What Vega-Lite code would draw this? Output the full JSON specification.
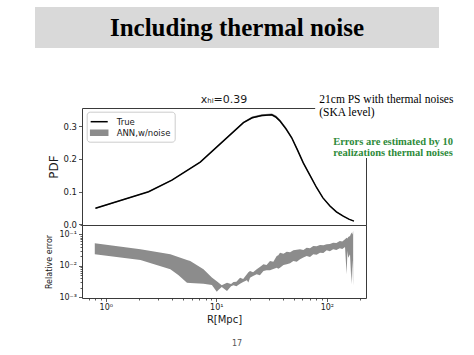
{
  "$schema": "https://vega.github.io/schema/vega-lite/v6.json",
  "background": "white",
  "padding": {"left": 35, "top": 7, "right": 0, "bottom": 0},
  "spacing": 45,
  "config": {
    "font": "DejaVu Sans",
    "view": {"stroke": null},
    "axis": {"domain": false, "grid": false, "labelFont": "DejaVu Sans", "titleFont": "DejaVu Sans", "labelColor": "#1a1a1a", "titleColor": "#1a1a1a", "tickColor": "#333333", "tickWidth": 0.8, "titleFontWeight": "normal", "labelOverlap": false, "labelFlush": false},
    "title": {"font": "DejaVu Sans", "fontWeight": "normal", "color": "#1a1a1a"}
  },
  "datasets": {
    "pdf": [
      {"R": 0.807, "pdf": 0.049, "lo": 0.047, "hi": 0.051},
      {"R": 2.44, "pdf": 0.0997, "lo": 0.098, "hi": 0.101},
      {"R": 3.97, "pdf": 0.1355, "lo": 0.134, "hi": 0.137},
      {"R": 7.16, "pdf": 0.1905, "lo": 0.189, "hi": 0.192},
      {"R": 17.6, "pdf": 0.311, "lo": 0.309, "hi": 0.314},
      {"R": 21.1, "pdf": 0.326, "lo": 0.324, "hi": 0.33},
      {"R": 25.8, "pdf": 0.333, "lo": 0.331, "hi": 0.337},
      {"R": 31.8, "pdf": 0.335, "lo": 0.332, "hi": 0.339},
      {"R": 34.7, "pdf": 0.328, "lo": 0.325, "hi": 0.333},
      {"R": 37.7, "pdf": 0.316, "lo": 0.313, "hi": 0.321},
      {"R": 42.7, "pdf": 0.292, "lo": 0.289, "hi": 0.297},
      {"R": 48.1, "pdf": 0.265, "lo": 0.262, "hi": 0.269},
      {"R": 54.3, "pdf": 0.227, "lo": 0.224, "hi": 0.231},
      {"R": 61.2, "pdf": 0.188, "lo": 0.185, "hi": 0.191},
      {"R": 70.4, "pdf": 0.15, "lo": 0.147, "hi": 0.153},
      {"R": 80.9, "pdf": 0.112, "lo": 0.11, "hi": 0.115},
      {"R": 92.2, "pdf": 0.081, "lo": 0.079, "hi": 0.083},
      {"R": 106.7, "pdf": 0.056, "lo": 0.054, "hi": 0.058},
      {"R": 122, "pdf": 0.038, "lo": 0.036, "hi": 0.04},
      {"R": 140.6, "pdf": 0.0254, "lo": 0.024, "hi": 0.027},
      {"R": 158, "pdf": 0.016, "lo": 0.015, "hi": 0.017},
      {"R": 175.8, "pdf": 0.01, "lo": 0.009, "hi": 0.011}
    ],
    "err": [
      {"R": 0.796, "lo": 0.0232, "hi": 0.0522},
      {"R": 2.06, "lo": 0.0153, "hi": 0.0336},
      {"R": 3.84, "lo": 0.00769, "hi": 0.0232},
      {"R": 4.53, "lo": 0.00506, "hi": 0.019},
      {"R": 5.43, "lo": 0.00287, "hi": 0.0153},
      {"R": 5.81, "lo": 0.0028, "hi": 0.0142},
      {"R": 7.66, "lo": 0.00267, "hi": 0.00769},
      {"R": 9.12, "lo": 0.00242, "hi": 0.0042},
      {"R": 10.1, "lo": 0.00148, "hi": 0.0032},
      {"R": 10.5, "lo": 0.0017, "hi": 0.00287},
      {"R": 11.2, "lo": 0.0021, "hi": 0.0024},
      {"R": 12.5, "lo": 0.00156, "hi": 0.00287},
      {"R": 13.6, "lo": 0.0022, "hi": 0.0026},
      {"R": 14.3, "lo": 0.00236, "hi": 0.00302},
      {"R": 15.2, "lo": 0.0022, "hi": 0.0031},
      {"R": 16.4, "lo": 0.00267, "hi": 0.00416},
      {"R": 17.5, "lo": 0.003, "hi": 0.0038},
      {"R": 18.9, "lo": 0.00341, "hi": 0.00531},
      {"R": 19.5, "lo": 0.0029, "hi": 0.0062},
      {"R": 20.2, "lo": 0.00416, "hi": 0.00679},
      {"R": 21.5, "lo": 0.0047, "hi": 0.0062},
      {"R": 23.2, "lo": 0.00531, "hi": 0.00767},
      {"R": 24.8, "lo": 0.005, "hi": 0.0092},
      {"R": 26.7, "lo": 0.00679, "hi": 0.0111},
      {"R": 28.5, "lo": 0.0072, "hi": 0.0105},
      {"R": 30.6, "lo": 0.00713, "hi": 0.0142},
      {"R": 32.8, "lo": 0.0078, "hi": 0.0135},
      {"R": 35.2, "lo": 0.00869, "hi": 0.0205},
      {"R": 36.4, "lo": 0.008, "hi": 0.0215},
      {"R": 37.7, "lo": 0.00869, "hi": 0.0262},
      {"R": 40.5, "lo": 0.0105, "hi": 0.024},
      {"R": 43.4, "lo": 0.0111, "hi": 0.0282},
      {"R": 46.5, "lo": 0.012, "hi": 0.027},
      {"R": 49.8, "lo": 0.0142, "hi": 0.0311},
      {"R": 53.4, "lo": 0.0135, "hi": 0.0325},
      {"R": 57.2, "lo": 0.016, "hi": 0.0335},
      {"R": 61.3, "lo": 0.0185, "hi": 0.032},
      {"R": 65.7, "lo": 0.0205, "hi": 0.0379},
      {"R": 70.4, "lo": 0.019, "hi": 0.036},
      {"R": 75.4, "lo": 0.0232, "hi": 0.0429},
      {"R": 80.8, "lo": 0.0225, "hi": 0.042},
      {"R": 86.7, "lo": 0.0262, "hi": 0.0461},
      {"R": 93, "lo": 0.0255, "hi": 0.0455},
      {"R": 99.6, "lo": 0.0311, "hi": 0.0484},
      {"R": 106.5, "lo": 0.029, "hi": 0.05},
      {"R": 114, "lo": 0.0335, "hi": 0.0548},
      {"R": 122, "lo": 0.032, "hi": 0.053},
      {"R": 131, "lo": 0.036, "hi": 0.0619},
      {"R": 138, "lo": 0.0345, "hi": 0.06},
      {"R": 146, "lo": 0.0398, "hi": 0.07},
      {"R": 151, "lo": 0.00531, "hi": 0.0792},
      {"R": 153.5, "lo": 0.03, "hi": 0.075},
      {"R": 156, "lo": 0.0181, "hi": 0.0832},
      {"R": 162, "lo": 0.0232, "hi": 0.0896},
      {"R": 167, "lo": 0.00254, "hi": 0.115},
      {"R": 170, "lo": 0.015, "hi": 0.1},
      {"R": 173, "lo": 0.00225, "hi": 0.129}
    ]
  },
  "vconcat": [
    {
      "width": 404,
      "height": 41,
      "view": {"fill": "#d9d9d9", "stroke": null},
      "data": {"values": [{"t": "Including thermal noise"}]},
      "mark": {"type": "text", "font": "Liberation Serif", "fontSize": 25, "fontWeight": "bold", "color": "#000000", "baseline": "middle", "align": "center"},
      "encoding": {"text": {"field": "t"}}
    },
    {
      "spacing": 0,
      "hconcat": [
        {
          "width": 9,
          "height": 10,
          "data": {"values": []},
          "mark": "point"
        },
        {
          "spacing": 0,
          "bounds": "flush",
          "vconcat": [
            {
              "width": 284,
              "height": 117,
              "view": {"stroke": "#3a3a3a", "strokeWidth": 1},
              "layer": [
                {
                  "data": {"name": "pdf"},
                  "mark": {"type": "area", "opacity": 1},
                  "encoding": {
                    "x": {"field": "R", "type": "quantitative", "scale": {"type": "log", "domain": [0.61, 226], "nice": false}, "axis": null},
                    "y": {"field": "lo", "type": "quantitative", "scale": {"domain": [-0.002, 0.356], "nice": false, "zero": false},
                      "axis": {"values": [0, 0.1, 0.2, 0.3], "tickCount": 4, "format": ".1f", "title": "PDF", "titleFontSize": 12, "labelFontSize": 8.5, "tickSize": 3.5, "labelPadding": 2, "titleX": -29, "titleY": 58.5, "titleAngle": 270, "titleAlign": "center", "titleBaseline": "middle"}},
                    "y2": {"field": "hi"},
                    "color": {
                      "datum": "ANN,w/noise", "type": "nominal",
                      "scale": {"domain": ["True", "ANN,w/noise"], "range": ["#000000", "#8c8c8c"]},
                      "legend": {
                        "title": null, "orient": "none", "legendX": 51.7, "legendY": 104.7, "padding": 3.5,
                        "fillColor": "white", "strokeColor": "#cccccc", "cornerRadius": 3,
                        "labelFontSize": 8.5, "labelFont": "DejaVu Sans", "labelColor": "#1a1a1a",
                        "labelOffset": 11, "symbolOffset": 2.5, "rowPadding": 0, "symbolSize": 121, "symbolStrokeWidth": 1.5,
                        "encoding": {"symbols": {
                          "shape": {"condition": {"test": "datum.value === 'True'", "value": "M-1.55,0H1.55"}, "value": "M-1.55,-0.45H1.55V0.45H-1.55Z"},
                          "fill": {"condition": {"test": "datum.value === 'True'", "value": "transparent"}, "value": "#8c8c8c"},
                          "stroke": {"condition": {"test": "datum.value === 'True'", "value": "#000000"}, "value": "transparent"},
                          "strokeWidth": {"value": 1.5},
                          "opacity": {"value": 1}
                        }}
                      }
                    }
                  }
                },
                {
                  "data": {"name": "pdf"},
                  "mark": {"type": "line", "strokeWidth": 1.5},
                  "encoding": {
                    "x": {"field": "R", "type": "quantitative"},
                    "y": {"field": "pdf", "type": "quantitative",
                      "axis": {"values": [0, 0.1, 0.2, 0.3], "tickCount": 4, "format": ".1f", "title": "PDF", "titleFontSize": 12, "labelFontSize": 8.5, "tickSize": 3.5, "labelPadding": 2, "titleX": -29, "titleY": 58.5, "titleAngle": 270, "titleAlign": "center", "titleBaseline": "middle"}},
                    "color": {"datum": "True", "type": "nominal"}
                  }
                },
                {
                  "data": {"values": [{}]},
                  "mark": {"type": "rect", "color": "#ffffff", "opacity": 1},
                  "encoding": {"x": {"datum": 78.4}, "x2": {"datum": 1800}, "y": {"datum": 0.203}, "y2": {"datum": 0.4}}
                },
                {
                  "data": {"values": [{}]},
                  "mark": {"type": "text", "font": "DejaVu Sans", "fontSize": 11, "align": "center", "baseline": "middle", "color": "#1a1a1a", "text": "xₕᵢ=0.39"},
                  "encoding": {"x": {"datum": 11.74}, "y": {"datum": 0.379}}
                },
                {
                  "data": {"values": [{}]},
                  "mark": {"type": "text", "font": "Liberation Serif", "fontSize": 11.5, "align": "left", "baseline": "middle", "lineHeight": 12.5, "color": "#000000", "text": ["21cm PS with thermal noises", "(SKA level)"]},
                  "encoding": {"x": {"datum": 85.4}, "y": {"datum": 0.379}}
                },
                {
                  "data": {"values": [{}]},
                  "mark": {"type": "text", "font": "Liberation Serif", "fontSize": 10.5, "fontWeight": "bold", "align": "center", "baseline": "middle", "lineHeight": 11, "color": "#2e8b3a", "text": ["Errors are estimated by 10", "realizations thermal noises"]},
                  "encoding": {"x": {"datum": 397}, "y": {"datum": 0.2505}}
                }
              ]
            },
            {
              "width": 284,
              "height": 73,
              "view": {"stroke": "#3a3a3a", "strokeWidth": 1},
              "layer": [
                {
                  "data": {"name": "err"},
                  "mark": {"type": "area", "color": "#8c8c8c", "opacity": 1},
                  "encoding": {
                    "x": {"field": "R", "type": "quantitative", "scale": {"type": "log", "domain": [0.61, 226], "nice": false},
                      "axis": {"values": [0.7, 0.8, 0.9, 1, 2, 3, 4, 5, 6, 7, 8, 9, 10, 20, 30, 40, 50, 60, 70, 80, 90, 100, 200],
                        "labelExpr": "datum.value == 1 ? '10⁰' : datum.value == 10 ? '10¹' : datum.value == 100 ? '10²' : ''",
                        "tickSize": {"condition": {"test": "datum.value == 1 || datum.value == 10 || datum.value == 100", "value": 3.5}, "value": 2},
                        "title": "R[Mpc]", "titleFontSize": 10, "labelFontSize": 8, "labelPadding": 2, "titlePadding": 3}},
                    "y": {"field": "lo", "type": "quantitative", "scale": {"type": "log", "domain": [0.00093, 0.201], "nice": false},
                      "axis": {"values": [0.001, 0.002, 0.003, 0.004, 0.005, 0.006, 0.007, 0.008, 0.009, 0.01, 0.02, 0.03, 0.04, 0.05, 0.06, 0.07, 0.08, 0.09, 0.1, 0.2],
                        "labelExpr": "datum.value == 0.1 ? '10⁻¹' : datum.value == 0.01 ? '10⁻²' : datum.value == 0.001 ? '10⁻³' : ''",
                        "tickSize": {"condition": {"test": "datum.value == 0.1 || datum.value == 0.01 || datum.value == 0.001", "value": 3.5}, "value": 2},
                        "title": "Relative error", "titleFontSize": 8, "labelFontSize": 8, "labelPadding": 2, "titleX": -33, "titleY": 36.5, "titleAngle": 270, "titleAlign": "center", "titleBaseline": "middle"}},
                    "y2": {"field": "hi"}
                  }
                },
                {
                  "data": {"values": [{}]},
                  "mark": {"type": "text", "fontSize": 8, "color": "#555555", "text": "17"},
                  "encoding": {"x": {"datum": 15.4}, "y": {"datum": 3.13e-5}}
                }
              ]
            }
          ]
        }
      ]
    }
  ]
}
